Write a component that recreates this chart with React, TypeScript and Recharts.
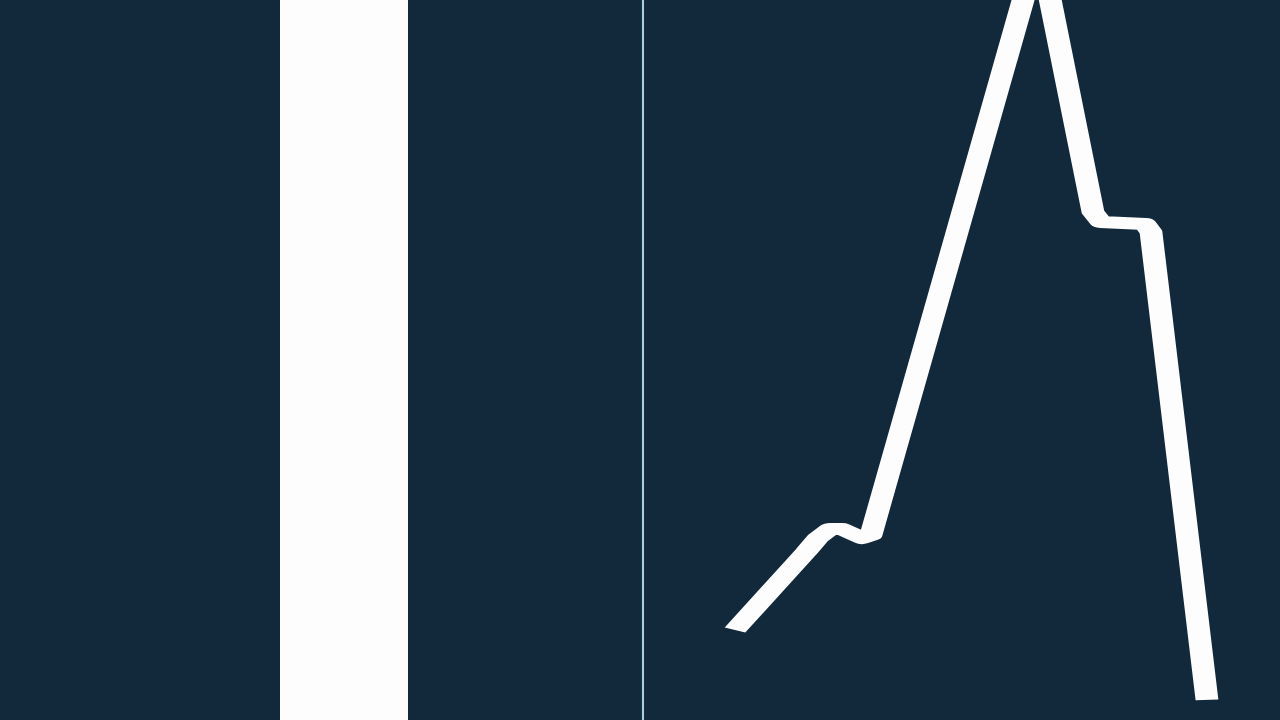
import React from "react";
import { ComposedChart, Line, XAxis, YAxis, ReferenceArea, ReferenceLine } from "recharts";

const xs = [735, 806, 818, 830, 842, 862, 871, 1039, 1093, 1101, 1145, 1151, 1207];
const ys = [90, 168, 182, 191, 191, 182, 185, 776, 508, 498, 496, 488, 20];
const barRange = [280, 408];
const markerX = 643;

const data = xs.map((x, i) => ({ x, y: ys[i] }));

const STRETCH = 1.9;
const INNER_W = 1280 / STRETCH;

export default function App() {
  return (
    <div style={{ position: "fixed", left: 0, top: 0, width: 1280, height: 720, background: "#12293b", overflow: "hidden" }}>
      <div style={{ width: INNER_W, height: 720, transform: `scaleX(${STRETCH})`, transformOrigin: "0 0" }}>
        <ComposedChart width={INNER_W} height={720} data={data} margin={{ top: 0, right: 0, bottom: 0, left: 0 }}>
          <XAxis dataKey="x" type="number" domain={[0, 1280]} hide allowDataOverflow />
          <YAxis type="number" domain={[0, 720]} hide allowDataOverflow />
          <ReferenceArea x1={barRange[0]} x2={barRange[1]} y1={0} y2={720} fill="#fdfdfd" fillOpacity={1} stroke="none" ifOverflow="visible" />
          <ReferenceLine x={markerX} stroke="#a9cfe0" strokeWidth={1.1} ifOverflow="visible" />
          <Line dataKey="y" type="linear" stroke="#fdfdfd" strokeWidth={12} dot={false} activeDot={false} isAnimationActive={false} strokeLinejoin="round" strokeLinecap="butt" />
        </ComposedChart>
      </div>
    </div>
  );
}
